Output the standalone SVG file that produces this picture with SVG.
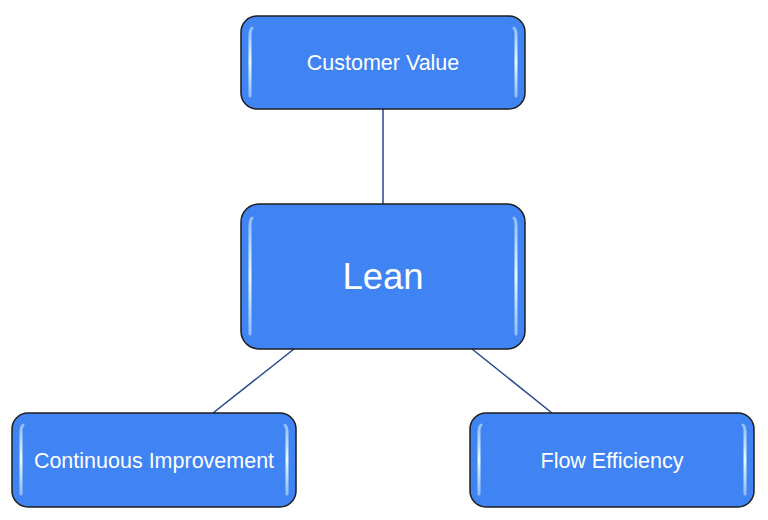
<svg xmlns="http://www.w3.org/2000/svg" width="768" height="520" viewBox="0 0 768 520">
<defs>
<linearGradient id="hl" x1="0" y1="0" x2="0" y2="1">
<stop offset="0" stop-color="#e0f8ff" stop-opacity="0.5"/>
<stop offset="0.5" stop-color="#e8faff"/>
<stop offset="1" stop-color="#e0f8ff" stop-opacity="0.5"/>
</linearGradient>
</defs>
<style>
.box{fill:#3f84f2;stroke:#1e1e1e;stroke-width:1.5}
.hi{stroke:url(#hl);stroke-width:3;stroke-linecap:round;fill:none}
.t{fill:#ffffff;font-family:"Liberation Sans",Arial,sans-serif;text-anchor:middle;dominant-baseline:central}
.c{stroke:#23468a;stroke-width:1.5;fill:none}
</style>
<rect width="768" height="520" fill="#ffffff"/>
<g id="connectors">
<line class="c" x1="383" y1="109" x2="383" y2="204"/>
<line class="c" x1="294" y1="349" x2="213" y2="413"/>
<line class="c" x1="472" y1="349" x2="552" y2="413"/>
</g>
<g id="customer-value">
<rect class="box" x="241" y="16" width="284" height="93" rx="16"/>
<path class="hi" d="M252 28 Q250 30 250 34 V96 M514 28 Q516 30 516 34 V96"/>
<text class="t" x="383" y="63" font-size="21.5">Customer Value</text>
</g>
<g id="lean">
<rect class="box" x="241" y="204" width="284" height="145" rx="18"/>
<path class="hi" d="M252 218 Q250 220 250 224 V334 M514 218 Q516 220 516 224 V334"/>
<text class="t" x="383" y="276" font-size="36.5">Lean</text>
</g>
<g id="continuous-improvement">
<rect class="box" x="12" y="413" width="284" height="94" rx="16"/>
<path class="hi" d="M23 425 Q21 427 21 431 V494 M285 425 Q287 427 287 431 V494"/>
<text class="t" x="154" y="461" font-size="21.5">Continuous Improvement</text>
</g>
<g id="flow-efficiency">
<rect class="box" x="470" y="413" width="284" height="94" rx="16"/>
<path class="hi" d="M481 425 Q479 427 479 431 V494 M743 425 Q745 427 745 431 V494"/>
<text class="t" x="612" y="461" font-size="21.5">Flow Efficiency</text>
</g>
</svg>
